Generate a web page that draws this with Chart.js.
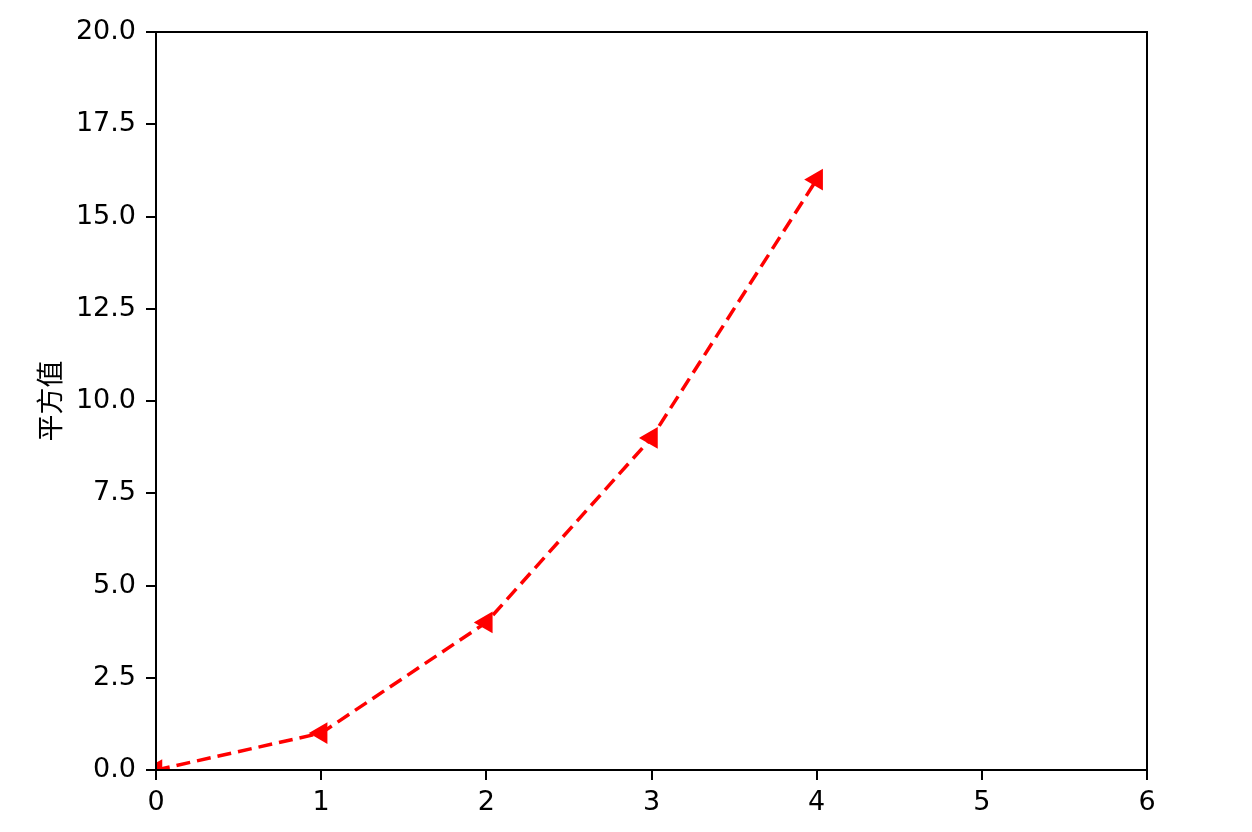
<!DOCTYPE html>
<html>
<head>
<meta charset="utf-8">
<script src="https://cdn.jsdelivr.net/npm/chart.js@4"></script>
<style>
  html, body { margin: 0; padding: 0; background: #fff; }
  #wrap { width: 1252px; height: 832px; }
</style>
</head>
<body>
<div id="wrap"><canvas id="squareChart" width="1252" height="832"></canvas></div>
<script>
// data
const xValues = [0, 1, 2, 3, 4];
const yValues = [0, 1, 4, 9, 16];
const yTitle = '平方值';

const ctx = document.getElementById('squareChart').getContext('2d');

// box round the plot area, like the axes frame
const frame = {
    id: 'frame',
    afterDraw(chart) {
        const a = chart.chartArea;
        const c = chart.ctx;
        c.save();
        c.strokeStyle = '#000';
        c.lineWidth = 2;
        c.strokeRect(a.left, a.top, a.right - a.left, a.bottom - a.top);
        c.restore();
    }
};

new Chart(ctx, {
    type: 'line',
    data: {
        datasets: [{
            data: xValues.map((x, i) => ({ x: x, y: yValues[i] })),
            borderColor: '#ff0000',
            backgroundColor: '#ff0000',
            borderWidth: 3.5,
            borderDash: [14, 7],
            pointStyle: 'triangle',
            rotation: -90,
            pointRadius: 10.5,
            pointHoverRadius: 10.5,
            pointBorderWidth: 2,
            pointBorderColor: '#ff0000',
            fill: false,
            tension: 0
        }]
    },
    options: {
        responsive: false,
        animation: false,
        layout: { padding: { top: 32, right: 105, left: 0, bottom: 0 } },
        plugins: { legend: { display: false }, tooltip: { enabled: false } },
        scales: {
            x: {
                type: 'linear',
                min: 0, max: 6,
                afterFit: s => { s.height = 62; },
                ticks: { stepSize: 1, color: '#000', padding: 7, maxRotation: 0,
                         font: { family: 'DejaVu Sans', size: 27 } },
                grid: { drawOnChartArea: false, drawTicks: true, tickLength: 10, color: '#000', lineWidth: 2 },
                border: { display: true, color: '#000', width: 2 }
            },
            y: {
                min: 0, max: 20,
                afterFit: s => { s.width = 156; },
                ticks: { stepSize: 2.5, color: '#000', padding: 10,
                         callback: v => v.toFixed(1),
                         font: { family: 'DejaVu Sans', size: 27 } },
                grid: { drawOnChartArea: false, drawTicks: true, tickLength: 10, color: '#000', lineWidth: 2 },
                border: { display: true, color: '#000', width: 2 },
                title: { display: true, text: yTitle, color: '#000',
                         padding: { top: 34, bottom: 0 },
                         font: { family: 'Noto Sans CJK SC', size: 27 } }
            }
        }
    },
    plugins: [frame]
});
</script>
</body>
</html>
